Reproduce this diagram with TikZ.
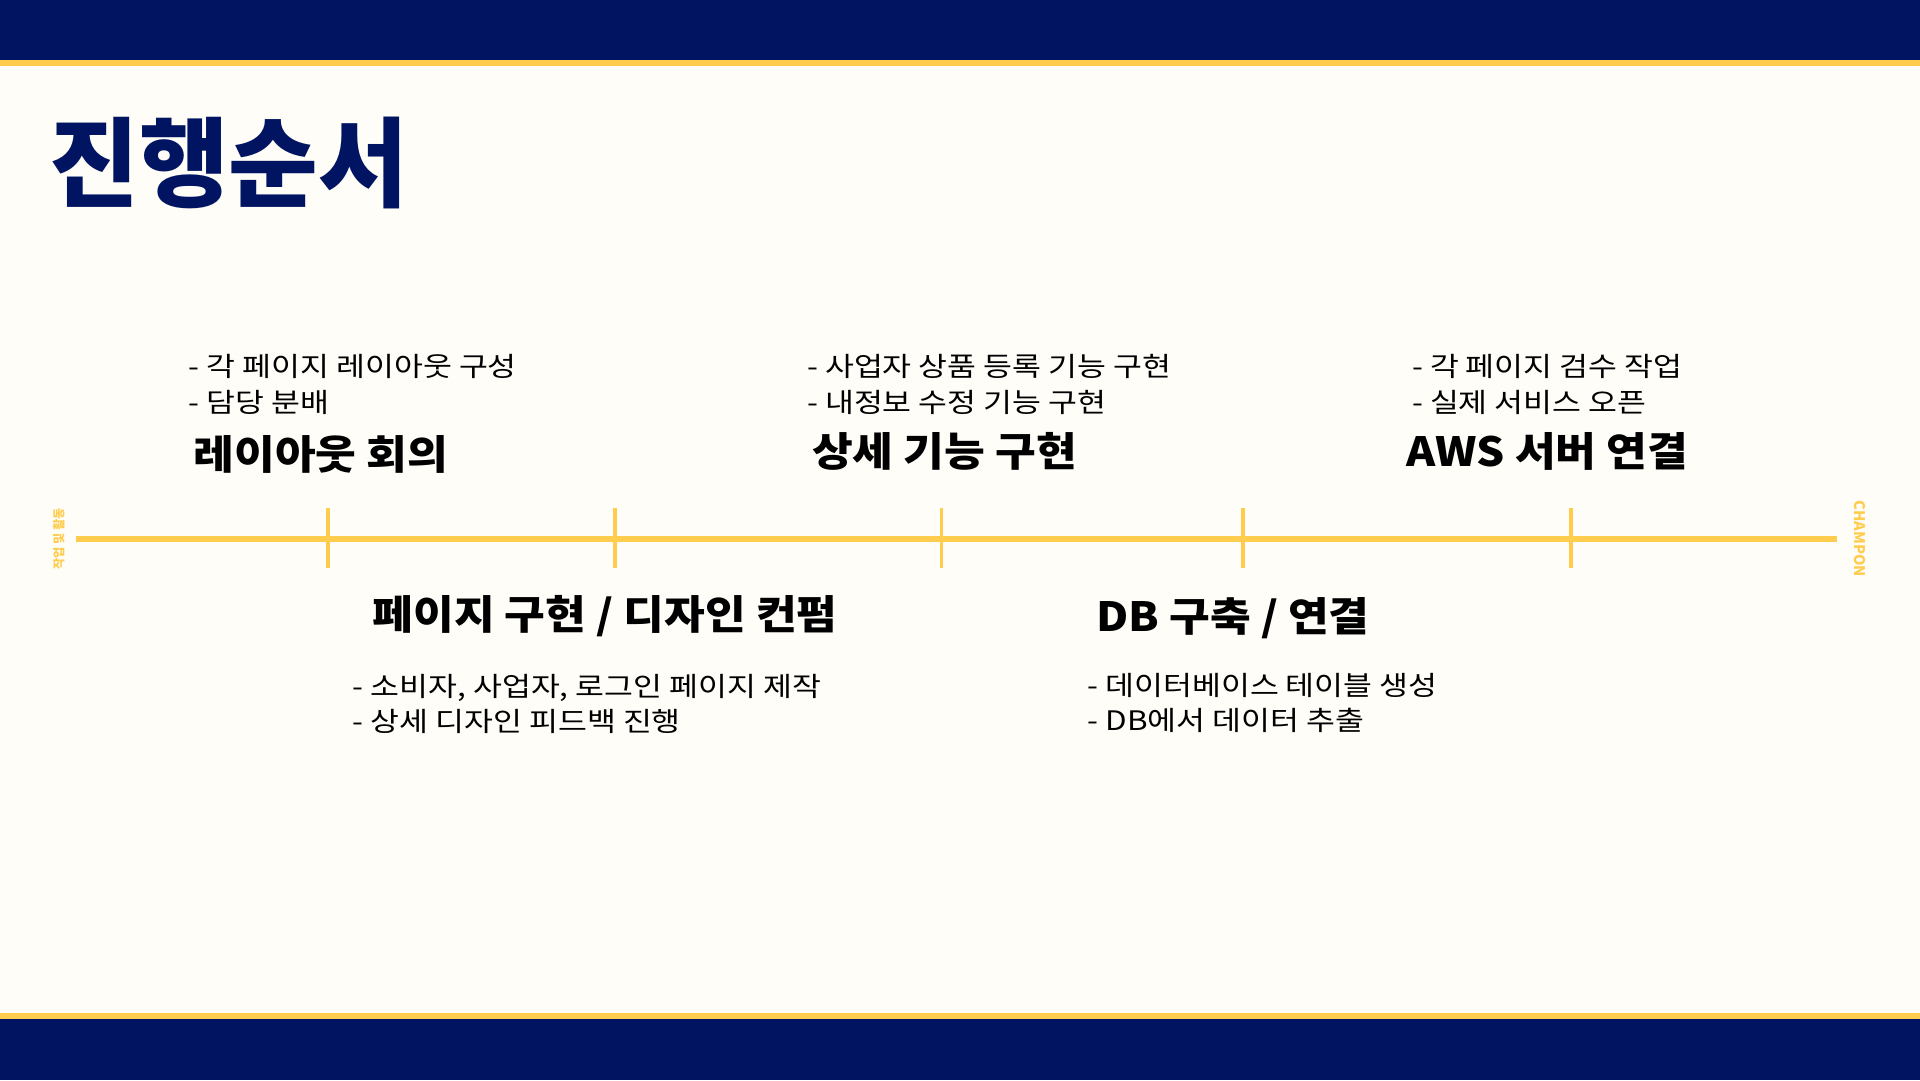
\documentclass[tikz,border=0pt]{standalone}
\usepackage{fontspec}
\setmainfont{Noto Sans CJK KR}
\definecolor{navy}{HTML}{001462}
\definecolor{gold}{HTML}{FFCC4D}
\definecolor{bg}{HTML}{FFFDF8}
\begin{document}
\begin{tikzpicture}[x=1bp,y=-1bp,
  head/.style={anchor=west,inner sep=0,xscale=1.1,font=\fontsize{33}{36}\selectfont\bfseries},
  bul/.style={anchor=west,inner sep=0,align=left,xscale=1.17,font=\fontsize{22}{29}\selectfont},
  tick/.style={gold,line width=3bp}]
\fill[bg] (0,0) rectangle (1568,882);
\useasboundingbox (0,0) rectangle (1568,882);
\fill[navy] (0,0) rectangle (1568,49);
\fill[gold] (0,49) rectangle (1568,54);
\fill[gold] (0,827) rectangle (1568,832);
\fill[navy] (0,832) rectangle (1568,882);
\node[anchor=west,inner sep=0,text=navy,font=\fontsize{80}{82}\selectfont\bfseries] (title) at (40,133) {진행순서};
\coordinate (l0) at (62,440); \coordinate (l1) at (1500,440);
\draw[gold,line width=5bp] (l0) -- (l1);
\foreach \x/\n in {268/t1,502/t2,769/t3,1015/t4,1283/t5}{
  \coordinate (\n) at (\x,440);
  \draw[tick] ([yshift=-24]\n) -- ([yshift=25]\n);}
\node[rotate=90,text=gold,inner sep=0,font=\fontsize{10}{10}\selectfont\bfseries] (lv) at (48,440) {작업 및 활동};
\node[rotate=-90,text=gold,inner sep=0,font=\fontsize{12}{12}\selectfont\bfseries] (rv) at (1519,440) {CHAMPON};
\node[bul] (b1) at (154,314) {- 각 페이지 레이아웃 구성\\- 담당 분배};
\node[head] (h1) at (158,371) {레이아웃 회의};
\node[bul] (b3) at (659,314) {- 사업자 상품 등록 기능 구현\\- 내정보 수정 기능 구현};
\node[head] (h3) at (663,369) {상세 기능 구현};
\node[bul] (b5) at (1153,314) {- 각 페이지 검수 작업\\- 실제 서비스 오픈};
\node[head] (h5) at (1148,369) {AWS 서버 연결};
\node[head] (h2) at (304,503) {페이지 구현 / 디자인 컨펌};
\node[bul] (b2) at (288,575) {- 소비자, 사업자, 로그인 페이지 제작\\- 상세 디자인 피드백 진행};
\node[head] (h4) at (895,505) {DB 구축 / 연결};
\node[bul] (b4) at (888,574) {- 데이터베이스 테이블 생성\\- DB에서 데이터 추출};
\end{tikzpicture}
\end{document}
